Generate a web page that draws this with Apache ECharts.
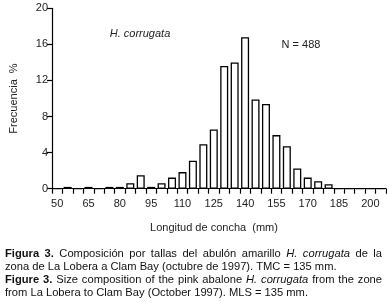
<!DOCTYPE html>
<html>
<head>
<meta charset="utf-8">
<script src="https://cdn.jsdelivr.net/npm/echarts@6/dist/echarts.min.js"></script>
<style>html,body{margin:0;padding:0;background:#fff;}#c{width:387px;height:304px;}</style>
</head>
<body>
<div id="c"></div>
<script>
// Size classes (mm), 5-mm bins
var categories = ['50','55','60','65','70','75','80','85','90','95','100','105','110','115','120','125','130','135','140','145','150','155','160','165','170','175','180','185','190','195','200','205'];
// Frequency (%)
var frequency = [0,0.2,0,0.2,0,0.2,0.2,0.6,1.5,0.2,0.6,1.23,1.84,3.1,4.92,6.56,13.6,14.0,16.8,9.9,9.4,5.94,4.71,2.25,1.23,0.82,0.5,0,0,0,0,0];
var yTicks = [0,4,8,12,16,20];
var speciesLabel = 'H. corrugata';
var nLabel = 'N = 488';
var xTitle = 'Longitud de concha  (mm)';
var yTitle = 'Frecuencia  %';
var captionLines = [
  {justify:true, segs:[['Figura 3.','b'],['Composición por tallas del abulón amarillo',''],['H. corrugata','i'],['de la','']]},
  {justify:false, segs:[['zona de La Lobera a Clam Bay (octubre de 1997). TMC = 135 mm.','']]},
  {justify:true, segs:[['Figure 3.','b'],['Size composition of the pink abalone',''],['H. corrugata','i'],['from the zone','']]},
  {justify:false, segs:[['from La Lobera to Clam Bay (October 1997). MLS = 135 mm.','']]}
];

var FAM = '"Liberation Sans", Arial, sans-serif';
var FS = 11;
function fontFor(st){ return (st==='i'?'italic ':'') + (st==='b'?'bold ':'') + FS + 'px ' + FAM; }
var ctx = document.createElement('canvas').getContext('2d');
function mw(t, st){ ctx.font = fontFor(st); return ctx.measureText(t).width; }
var scale = 303 / mw(captionLines[3].segs[0][0], '');
if (!(scale > 0.8 && scale < 1.2)) scale = 1;
var L = 5, R = 382;
var lineY = [253.5, 266.8, 280, 293.3];
var graphics = [];
captionLines.forEach(function(line, li){
  var words = [];
  line.segs.forEach(function(s){ s[0].split(' ').forEach(function(w){ words.push([w, s[1]]); }); });
  var widths = words.map(function(w){ return mw(w[0], w[1]) * scale; });
  var total = widths.reduce(function(a,b){return a+b;},0);
  var gap = line.justify ? (R - L - total) / (words.length - 1) : mw(' ', '') * scale;
  var x = L;
  words.forEach(function(w, i){
    graphics.push({type:'text', x:x, y:lineY[li], scaleX:scale, scaleY:1,
      style:{text:w[0], font:fontFor(w[1]), fill:'#111', textAlign:'left', textVerticalAlign:'middle'}});
    x += widths[i] + gap;
  });
});
graphics.push({type:'text', x:140, y:34, style:{text:speciesLabel, font:'italic 11px ' + FAM, fill:'#222', textAlign:'center', textVerticalAlign:'middle'}});
graphics.push({type:'text', x:301, y:45, style:{text:nLabel, font:'11px ' + FAM, fill:'#222', textAlign:'center', textVerticalAlign:'middle'}});

var chart = echarts.init(document.getElementById('c'), null, {renderer:'canvas'});
chart.setOption({
  animation:false,
  backgroundColor:'#fff',
  grid:{left:47, right:1, top:8.3, bottom:115.3, containLabel:false},
  xAxis:{
    type:'category', data:categories, boundaryGap:true,
    name:xTitle, nameLocation:'middle', nameGap:34,
    nameTextStyle:{fontSize:11, fontFamily:FAM, color:'#222', padding:[0,10,0,0]},
    axisLine:{lineStyle:{color:'#000', width:1.2}},
    axisTick:{show:true, interval:0, length:5, inside:false, lineStyle:{color:'#000', width:1.2}},
    axisLabel:{interval:2, margin:10, fontSize:11, fontFamily:FAM, color:'#222'},
    splitLine:{show:false}
  },
  yAxis:{
    type:'value', min:yTicks[0], max:yTicks[yTicks.length-1], interval:yTicks[1]-yTicks[0],
    name:yTitle, nameLocation:'middle', nameGap:33, nameRotate:90,
    nameTextStyle:{fontSize:11, fontFamily:FAM, color:'#222'},
    axisLine:{show:true, lineStyle:{color:'#000', width:1.2}},
    axisTick:{show:true, length:5, inside:false, lineStyle:{color:'#000', width:1.2}},
    axisLabel:{margin:4, fontSize:11, fontFamily:FAM, color:'#222'},
    splitLine:{show:false}
  },
  series:[{
    type:'bar', data:frequency, barWidth:8,
    itemStyle:{color:'#fff', borderColor:'#000', borderWidth:1.3},
    silent:true
  }],
  graphic:graphics
});
</script>
</body>
</html>
